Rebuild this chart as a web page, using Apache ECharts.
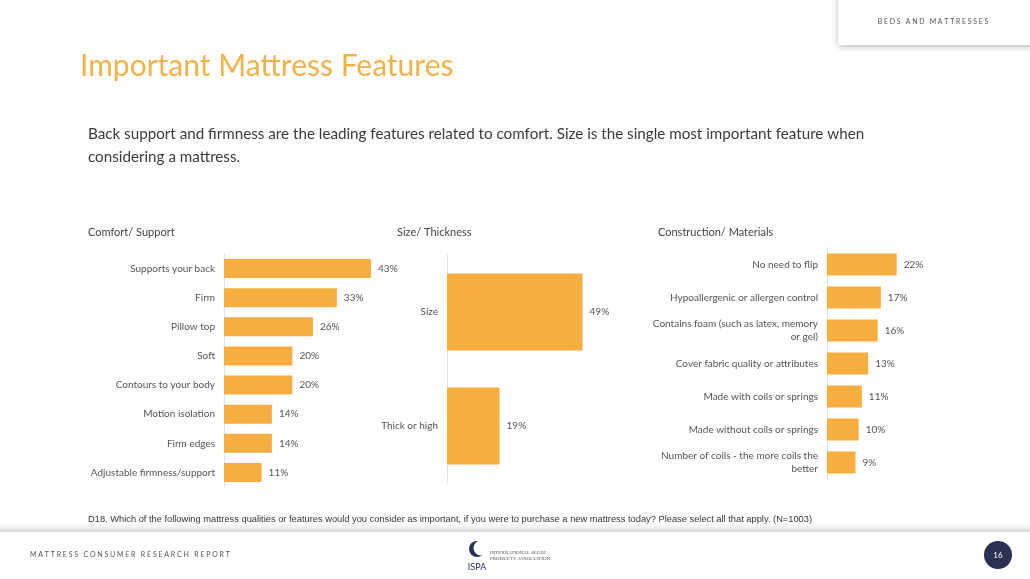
<!DOCTYPE html>
<html>
<head>
<meta charset="utf-8">
<script src="https://cdn.jsdelivr.net/npm/echarts@6/dist/echarts.min.js"></script>
<style>
html,body{margin:0;padding:0;background:#fff;}
#main{width:1030px;height:579px;}
</style>
</head>
<body>
<div id="main"></div>
<script>
// comfort / support
var comfortNames = ['Supports your back','Firm','Pillow top','Soft','Contours to your body','Motion isolation','Firm edges','Adjustable firmness/support'];
var comfortVals = [43,33,26,20,20,14,14,11];
// size / thickness
var sizeNames = ['Size','Thick or high'];
var sizeVals = [49,19];
// construction / materials
var buildNames = ['No need to flip','Hypoallergenic or allergen control','Contains foam (such as latex, memory\nor gel)','Cover fabric quality or attributes','Made with coils or springs','Made without coils or springs','Number of coils - the more coils the\nbetter'];
var buildVals = [22,17,16,13,11,10,9];

var barColor = '#F6AE40';
var font = 'Lato';
var chart = echarts.init(document.getElementById('main'));

function yAx(idx, names){
	return {
		type:'category', gridIndex:idx, data:names, inverse:true,
		axisLine:{show:true, lineStyle:{color:'#e2e2e2', width:1}},
		axisTick:{show:false},
		axisLabel:{color:'#555', fontSize:10, fontFamily:font, margin:9, align:'right', lineHeight:13}
	};
}
function xAx(idx, max){
	return {type:'value', gridIndex:idx, min:0, max:max, show:false};
}
function bars(idx, vals, w){
	return {
		type:'bar', xAxisIndex:idx, yAxisIndex:idx, data:vals, barWidth:w,
		itemStyle:{color:barColor},
		label:{show:true, position:'right', distance:7, formatter:'{c}%', color:'#555', fontSize:10, fontFamily:font},
		silent:true
	};
}

option = {
	backgroundColor:'#fff',
	animation:false,
	title:[
		{text:'Important Mattress Features', left:75, top:46, textStyle:{color:'#F2B24A', fontSize:30, fontWeight:'normal', fontFamily:font}},
		{text:'Back support and firmness are the leading features related to comfort. Size is the single most important feature when\nconsidering a mattress.', left:83, top:118, textStyle:{color:'#3a3a3a', fontSize:15.2, fontWeight:'normal', fontFamily:font, lineHeight:23}},
		{text:'Comfort/ Support', left:83, top:222, textStyle:{color:'#444', fontSize:11, fontWeight:'normal', fontFamily:font}},
		{text:'Size/ Thickness', left:392, top:222, textStyle:{color:'#444', fontSize:11, fontWeight:'normal', fontFamily:font}},
		{text:'Construction/ Materials', left:653, top:222, textStyle:{color:'#444', fontSize:11, fontWeight:'normal', fontFamily:font}}
	],
	grid:[
		{left:224, top:254, width:171, height:233},
		{left:447, top:255, width:166, height:228},
		{left:827, top:248, width:95, height:231}
	],
	xAxis:[xAx(0,50), xAx(1,60), xAx(2,30)],
	yAxis:[yAx(0,comfortNames), yAx(1,sizeNames), yAx(2,buildNames)],
	series:[bars(0,comfortVals,19), bars(1,sizeVals,77), bars(2,buildVals,22)],
	graphic:[
		// header tab top right
		{type:'rect', shape:{x:838, y:-5, width:200, height:50}, style:{fill:'#fff', shadowBlur:6, shadowOffsetY:2, shadowColor:'rgba(0,0,0,0.25)'}, z:1},
		{type:'text', x:933, y:22, style:{text:'B E D S   A N D   M A T T R E S S E S', fill:'#555', font:'6.9px Lato', align:'center', verticalAlign:'middle'}, z:2},
		// footnote
		{type:'text', x:88, y:519, style:{text:'D18. Which of the following mattress qualities or features would you consider as important, if you were to purchase a new mattress today? Please select all that apply. (N=1003)', fill:'#333', font:'9.3px "Liberation Sans Narrow", "Liberation Sans"', verticalAlign:'middle'}},
		// footer shading
		{type:'rect', shape:{x:0, y:521, width:1030, height:11}, style:{fill:new echarts.graphic.LinearGradient(0,0,0,1,[{offset:0,color:'rgba(255,255,255,0)'},{offset:1,color:'#d6d6d6'}])}},
		{type:'text', x:30, y:555, style:{text:'M A T T R E S S   C O N S U M E R   R E S E A R C H   R E P O R T', fill:'#555', font:'7px Lato', verticalAlign:'middle'}},
		// ISPA logo
		{type:'circle', shape:{cx:477, cy:549, r:8}, style:{fill:'#2A3152'}},
		{type:'circle', shape:{cx:481, cy:548, r:7.5}, style:{fill:'#fff'}},
		{type:'text', x:477, y:567, style:{text:'ISPA', fill:'#2A3152', font:'9px Lato', align:'center', verticalAlign:'middle'}},
		{type:'text', x:490, y:556, style:{text:'INTERNATIONAL SLEEP\nPRODUCTS ASSOCIATION', fill:'#555', font:'5px "Liberation Serif"', lineHeight:6, verticalAlign:'middle'}},
		// page number
		{type:'circle', shape:{cx:998, cy:555, r:14}, style:{fill:'#2A3152'}},
		{type:'text', x:998, y:555, style:{text:'16', fill:'#fff', font:'8px Lato', align:'center', verticalAlign:'middle'}}
	]
};
chart.setOption(option);
</script>
</body>
</html>
